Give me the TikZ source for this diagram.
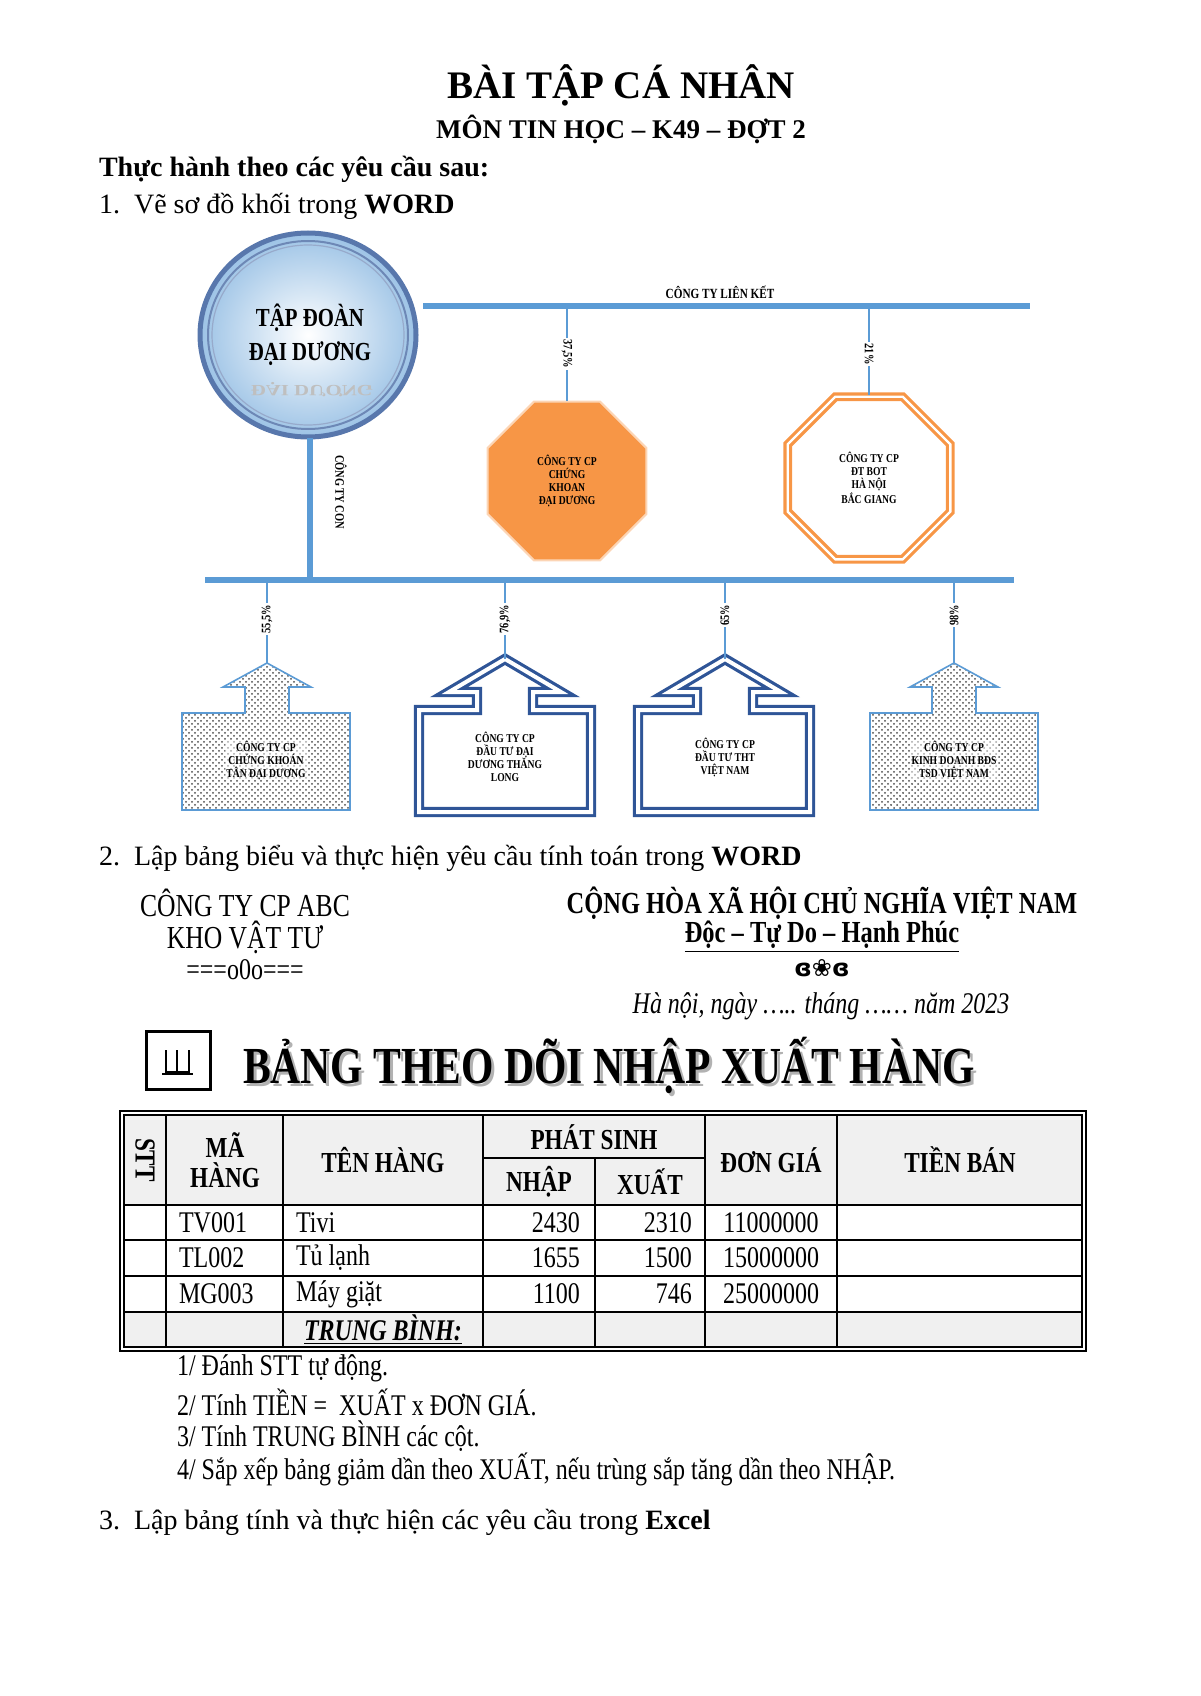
\documentclass[tikz,border=0pt]{standalone}
\usepackage{fontspec}
\setmainfont{Liberation Serif}
\newfontfamily\narrow[FakeStretch=0.8]{Liberation Serif}
\newfontfamily\symf{DejaVu Sans}
\usetikzlibrary{shapes.geometric,patterns}
\definecolor{lblue}{RGB}{91,155,213}
\definecolor{dblue}{RGB}{47,85,151}
\definecolor{orng}{RGB}{247,150,70}
\definecolor{hgray}{RGB}{240,240,240}
\tikzset{
 bar/.style={lblue,line width=3pt},
 drop/.style={lblue,line width=0.8pt},
 small/.style={font=\bfseries\fontsize{6}{6.5}\selectfont\narrow,align=center},
 pct/.style={font=\bfseries\fontsize{6.5}{7}\selectfont\narrow},
 oct/.style={regular polygon,regular polygon sides=8,minimum size=86pt,inner sep=0pt},
 tb/.style={font=\fontsize{15}{16}\selectfont\narrow},
 th/.style={font=\bfseries\fontsize{14.5}{15}\selectfont\narrow,align=center},
}
\newcommand{\arrbox}[9]{%
 (#1,#4) -- (#1,#3) -- (#5-#7,#3) -- (#5-#7,#9) -- (#5-#6,#9) -- (#5,#8) -- (#5+#6,#9) -- (#5+#7,#9) -- (#5+#7,#3) -- (#2,#3) -- (#2,#4) -- cycle}
\begin{document}
\begin{tikzpicture}[x=0.5pt,y=-0.5pt]
\useasboundingbox (0,0) rectangle (1200,1696);
% headings
\node (t1) at (621,85) {\bfseries\fontsize{19.5}{22}\selectfont BÀI TẬP CÁ NHÂN};
\node (t2) at (621,129) {\bfseries\fontsize{13.5}{15}\selectfont MÔN TIN HỌC – K49 – ĐỢT 2};
\node[anchor=west] (t3) at (92,169) {\bfseries\fontsize{14}{15}\selectfont Thực hành theo các yêu cầu sau:};
\node[anchor=west] (t4) at (92,206) {\fontsize{14}{15}\selectfont 1.\ \ Vẽ sơ đồ khối trong \textbf{WORD}};
% circle
\shade[inner color=white,outer color=lblue!60] (308,335) ellipse (108 and 102);
\draw[dblue!80,line width=2.5pt] (308,335) ellipse (108 and 102);
\draw[dblue!70,line width=1pt] (308,335) ellipse (100 and 94);
\draw[dblue!50,line width=0.6pt] (308,335) ellipse (96 and 90);
\node[font=\bfseries\fontsize{13}{15}\selectfont\narrow,align=center] (tap) at (310,335) {TẬP ĐOÀN\\[2pt]ĐẠI DƯƠNG};
\node[font=\bfseries\fontsize{13}{15}\selectfont\narrow,gray!50,yscale=-0.6] (refl) at (312,390) {ĐẠI DƯƠNG};
% bars
\coordinate (L1a) at (423,306); \coordinate (L1b) at (1030,306);
\draw[bar] (L1a) -- (L1b);
\node[small,font=\bfseries\fontsize{7}{8}\selectfont\narrow] (lk) at (720,292) {CÔNG TY LIÊN KẾT};
\coordinate (L2a) at (205,580); \coordinate (L2b) at (1014,580);
\draw[bar] (L2a) -- (L2b);
\coordinate (tr1) at (310,438); \coordinate (tr2) at (310,580);
\draw[bar] (tr1) -- (tr2);
\node[pct,rotate=-90] (con) at (341,492) {CÔNG TY CON};
% octagons
\node[oct,fill=orng,draw=orng!40,line width=1pt] (o1) at (567,481) {};
\node[small] at (o1) {CÔNG TY CP\\CHỨNG\\KHOAN\\ĐẠI DƯƠNG};
\node[oct,draw=orng,double=white,double distance=1.2pt,line width=1.6pt,minimum size=88pt] (o2) at (869,478) {};
\node[small] at (o2) {CÔNG TY CP\\ĐT BOT\\HÀ NỘI\\BẮC GIANG};
\coordinate (a1) at (567,306); \coordinate (a2) at (869,306);
\draw[drop] (a1) -- (o1.north);
\draw[drop] (a2) -- (o2.north);
\node[pct,rotate=-90,fill=white,inner sep=1pt] at (567,354) {37,5\%};
\node[pct,rotate=-90,fill=white,inner sep=1pt] at (869,354) {21\%};
% arrow boxes
\fill[white] \arrbox{182}{350}{713}{810}{267}{44}{22}{663}{687};
\draw[lblue,line width=0.8pt,pattern=crosshatch dots,pattern color=black!70] \arrbox{182}{350}{713}{810}{267}{44}{22}{663}{687};
\draw[dblue,line width=1.6pt,double=white,double distance=2pt] \arrbox{419}{591}{710}{812}{505}{56}{28}{659}{692};
\draw[dblue,line width=1.6pt,double=white,double distance=2pt] \arrbox{638}{810}{710}{812}{725}{56}{28}{659}{692};
\fill[white] \arrbox{870}{1038}{713}{810}{954}{44}{22}{663}{687};
\draw[lblue,line width=0.8pt,pattern=crosshatch dots,pattern color=black!70] \arrbox{870}{1038}{713}{810}{954}{44}{22}{663}{687};
\coordinate (b1) at (267,580); \coordinate (e1) at (267,663);
\coordinate (b2) at (505,580); \coordinate (e2) at (505,659);
\coordinate (b3) at (725,580); \coordinate (e3) at (725,659);
\coordinate (b4) at (954,580); \coordinate (e4) at (954,663);
\foreach \i in {1,...,4}{\draw[drop] (b\i) -- (e\i);}
\node[pct,rotate=90,fill=white,inner sep=1pt] at (267,619) {55,5\%};
\node[pct,rotate=90,fill=white,inner sep=1pt] at (505,619) {76,9\%};
\node[pct,rotate=90,fill=white,inner sep=1pt] at (725,615) {65\%};
\node[pct,rotate=90,fill=white,inner sep=1pt] at (954,615) {98\%};
\node[small,fill=white,inner sep=0.5pt,fill opacity=0.5,text opacity=1] (x1) at (266,760) {CÔNG TY CP\\CHỨNG KHOÁN\\TÂN ĐẠI DƯƠNG};
\node[small] (x2) at (505,757) {CÔNG TY CP\\ĐẦU TƯ ĐẠI\\DƯƠNG THĂNG\\LONG};
\node[small] (x3) at (725,757) {CÔNG TY CP\\ĐẦU TƯ THT\\VIỆT NAM};
\node[small,fill=white,inner sep=0.5pt,fill opacity=0.5,text opacity=1] (x4) at (954,760) {CÔNG TY CP\\KINH DOANH BĐS\\TSD VIỆT NAM};
% section 2
\node[anchor=west] (s2) at (92,858) {\fontsize{14}{15}\selectfont 2.\ \ Lập bảng biểu và thực hiện yêu cầu tính toán trong \textbf{WORD}};
\node[font=\fontsize{16}{17}\selectfont\narrow] at (245,903) {CÔNG TY CP ABC};
\node[font=\fontsize{16}{17}\selectfont\narrow] at (245,937) {KHO VẬT TƯ};
\node[font=\fontsize{15}{17}\selectfont\narrow] at (245,970) {===o0o===};
\node[font=\bfseries\fontsize{15.3}{17}\selectfont\narrow] at (822,903) {CỘNG HÒA XÃ HỘI CHỦ NGHĨA VIỆT NAM};
\node[font=\bfseries\fontsize{15.3}{17}\selectfont\narrow] at (822,937) {\underline{Độc – Tự Do – Hạnh Phúc}};
\node[font=\bfseries\fontsize{12}{14}\selectfont\symf] at (822,968) {ɞ❀ɞ};
\node[font=\itshape\fontsize{15}{17}\selectfont\narrow] at (821,1006) {Hà nội, ngày ….. tháng …… năm 2023};
% big title
\node[draw,line width=1.5pt,minimum width=32pt,minimum height=29pt] (ic) at (178,1060) {};
\draw[line width=1pt] (166,1050) -- (166,1072) -- (189,1072) -- (189,1050) (177,1050) -- (177,1072);
\draw[line width=0.8pt] (162,1074) -- (193,1074);
\node[anchor=west,gray!60,font=\bfseries\fontsize{26}{28}\selectfont\narrow] at (239,1068) {BẢNG THEO DÕI NHẬP XUẤT HÀNG};
\node[anchor=west,font=\bfseries\fontsize{26}{28}\selectfont\narrow] (bt) at (236,1065) {BẢNG THEO DÕI NHẬP XUẤT HÀNG};
% table
\fill[hgray] (124,1115) rectangle (1082,1205);
\fill[hgray] (124,1312) rectangle (1082,1347);
\draw[line width=1.2pt] (120,1111) rectangle (1086,1351);
\draw[line width=0.8pt] (124,1115) rectangle (1082,1347);
\foreach \y in {1205,1240,1276,1312} \draw[line width=0.8pt] (124,\y) -- (1082,\y);
\draw[line width=0.8pt] (483,1158) -- (705,1158);
\foreach \x in {166,283,483,705,837} \draw[line width=0.8pt] (\x,1115) -- (\x,1347);
\draw[line width=0.8pt] (595,1158) -- (595,1347);
\node[th,rotate=-90] at (145,1160) {STT};
\node[th] at (225,1160) {MÃ\\HÀNG};
\node[th] at (383,1160) {TÊN HÀNG};
\node[th] at (594,1137) {PHÁT SINH};
\node[th] at (539,1182) {NHẬP};
\node[th] at (650,1182) {XUẤT};
\node[th] at (771,1160) {ĐƠN GIÁ};
\node[th] at (960,1160) {TIỀN BÁN};
\foreach \y/\m/\t/\n/\u/\g in {1223/TV001/Tivi/2430/2310/11000000,1258/TL002/Tủ lạnh/1655/1500/15000000,1294/MG003/Máy giặt/1100/746/25000000}{
 \node[tb,anchor=west] at (172,\y) {\m};
 \node[tb,anchor=west] at (289,\y) {\t};
 \node[tb,anchor=east] at (587,\y) {\n};
 \node[tb,anchor=east] at (699,\y) {\u};
 \node[tb] at (771,\y) {\g};
}
\node[font=\bfseries\itshape\fontsize{15}{16}\selectfont\narrow] at (383,1330) {\underline{TRUNG BÌNH:}};
% notes
\foreach \y/\s in {1368/{1/ Đánh STT tự động.},1402/{2/ Tính TIỀN = \ XUẤT x ĐƠN GIÁ.},1436/{3/ Tính TRUNG BÌNH các cột.},1469/{4/ Sắp xếp bảng giảm dần theo XUẤT, nếu trùng sắp tăng dần theo NHẬP.}}
 \node[anchor=west,font=\fontsize{15}{16}\selectfont\narrow] at (170,\y) {\s};
\node[anchor=west] (s3) at (92,1522) {\fontsize{14}{15}\selectfont 3.\ \ Lập bảng tính và thực hiện các yêu cầu trong \textbf{Excel}};
\end{tikzpicture}
\end{document}
